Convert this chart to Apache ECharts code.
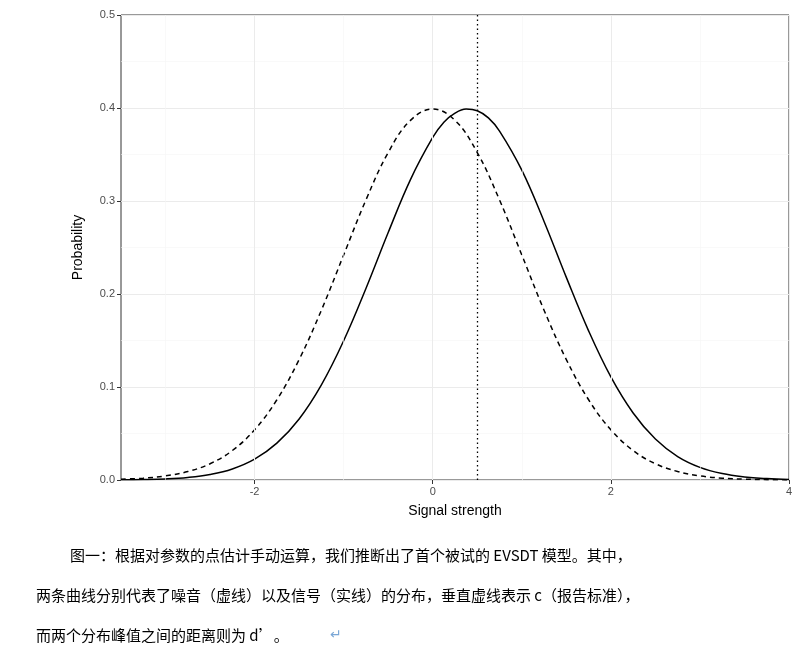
<!DOCTYPE html>
<html>
<head>
<meta charset="UTF-8">
<script src="https://cdn.jsdelivr.net/npm/echarts@6/dist/echarts.min.js"></script>
<style>
  html, body { margin: 0; padding: 0; background: #fff; }
  #main { width: 798px; height: 658px; }
</style>
</head>
<body>
<div id="main"></div>
<script>
// values
const xs = [-3.5, -3.25, -3, -2.75, -2.5, -2.25, -2, -1.75, -1.5, -1.25, -1, -0.75, -0.5, -0.25,
            0, 0.25, 0.5, 0.75, 1, 1.25, 1.5, 1.75, 2, 2.25, 2.5, 2.75, 3, 3.25, 3.5, 3.75, 4];
const noise = [0.0009, 0.0020, 0.0044, 0.0091, 0.0175, 0.0317, 0.0540, 0.0863, 0.1295, 0.1826,
               0.2420, 0.3011, 0.3521, 0.3867, 0.3989, 0.3867, 0.3521, 0.3011, 0.2420, 0.1826,
               0.1295, 0.0863, 0.0540, 0.0317, 0.0175, 0.0091, 0.0044, 0.0020, 0.0009, 0.0004, 0.0001];
const xsSignal = [-3.5, -3.25, -3, -2.75, -2.5, -2.25, -2, -1.75, -1.5, -1.25, -1, -0.75, -0.5, -0.25,
                  0, 0.125, 0.25, 0.375, 0.5, 0.625, 0.75, 1, 1.25, 1.5, 1.75, 2, 2.25, 2.5, 2.75, 3, 3.25, 3.5, 3.75, 4];
const signal = [0.0002, 0.0005, 0.0012, 0.0028, 0.0060, 0.0119, 0.0224, 0.0396, 0.0656, 0.1023,
                0.1497, 0.2059, 0.2661, 0.3230, 0.3683, 0.3847, 0.3945, 0.3988, 0.3970, 0.3894, 0.3752,
                0.3332, 0.2780, 0.2179, 0.1604, 0.1109, 0.0721, 0.0440, 0.0252, 0.0136, 0.0069, 0.0033, 0.0015, 0.0006];
const criterion = 0.5;
const xMajor = [-2, 0, 2, 4];
const xMinor = [-3, -1, 1, 3];
const caption = [
  '图一：根据对参数的点估计手动运算，我们推断出了首个被试的 EVSDT 模型。其中，',
  '两条曲线分别代表了噪音（虚线）以及信号（实线）的分布，垂直虚线表示 c（报告标准），',
  '而两个分布峰值之间的距离则为 d’。'
];

const chart = echarts.init(document.getElementById('main'));
const gridLines = xMajor.map(v => ({ xAxis: v, lineStyle: { color: '#ebebeb', width: 1, type: 'solid' } }))
  .concat(xMinor.map(v => ({ xAxis: v, lineStyle: { color: '#f5f5f5', width: 0.6, type: 'solid' } })));

chart.setOption({
  animation: false,
  grid: { left: 121, right: 9, top: 15, bottom: 178, show: true, borderColor: '#333', borderWidth: 1 },
  xAxis: {
    type: 'value', min: -3.5, max: 4,
    name: 'Signal strength', nameLocation: 'middle', nameGap: 24,
    nameTextStyle: { color: '#000', fontSize: 14, fontFamily: 'Liberation Sans' },
    axisLine: { show: false, onZero: false },
    axisTick: { show: true, length: 4, customValues: xMajor, lineStyle: { color: '#333' } },
    axisLabel: { customValues: xMajor, color: '#4d4d4d', fontSize: 11, fontFamily: 'Liberation Sans', margin: 6 },
    splitLine: { show: false }
  },
  yAxis: {
    type: 'value', min: 0, max: 0.5, interval: 0.1,
    name: 'Probability', nameLocation: 'middle', nameGap: 36,
    nameTextStyle: { color: '#000', fontSize: 14, fontFamily: 'Liberation Sans' },
    axisLine: { show: false, onZero: false },
    axisTick: { show: true, length: 4, lineStyle: { color: '#333' } },
    axisLabel: { color: '#4d4d4d', fontSize: 11, fontFamily: 'Liberation Sans', margin: 6,
                 formatter: v => v.toFixed(1) },
    splitLine: { lineStyle: { color: '#ebebeb' } },
    minorTick: { show: false, splitNumber: 2 },
    minorSplitLine: { show: true, lineStyle: { color: '#f5f5f5', width: 0.6 } }
  },
  series: [
    {
      type: 'line', data: [], silent: true,
      markLine: { silent: true, symbol: 'none', label: { show: false }, data: gridLines }
    },
    {
      type: 'line', smooth: 0.4, showSymbol: false,
      data: xs.map((x, i) => [x, noise[i]]),
      lineStyle: { color: '#000', width: 1.5, type: [5, 4] },
      markLine: {
        silent: true, symbol: 'none', label: { show: false },
        lineStyle: { color: '#000', width: 1.3, type: [1.5, 3] },
        data: [{ xAxis: criterion }]
      }
    },
    {
      type: 'line', smooth: 0.4, showSymbol: false,
      data: xsSignal.map((x, i) => [x, signal[i]]),
      lineStyle: { color: '#000', width: 1.5 }
    }
  ],
  graphic: [
    { type: 'text', left: 70, top: 548, style: { text: caption[0], fill: '#000', font: '15px "Noto Sans CJK SC"' } },
    { type: 'text', left: 36, top: 588, style: { text: caption[1], fill: '#000', font: '15px "Noto Sans CJK SC"' } },
    { type: 'text', left: 36, top: 628, style: { text: caption[2], fill: '#000', font: '15px "Noto Sans CJK SC"' } },
    { type: 'text', left: 330, top: 628, style: { text: '↵', fill: '#7aa7d6', font: '14px "DejaVu Sans"' } }
  ]
});
</script>
</body>
</html>
